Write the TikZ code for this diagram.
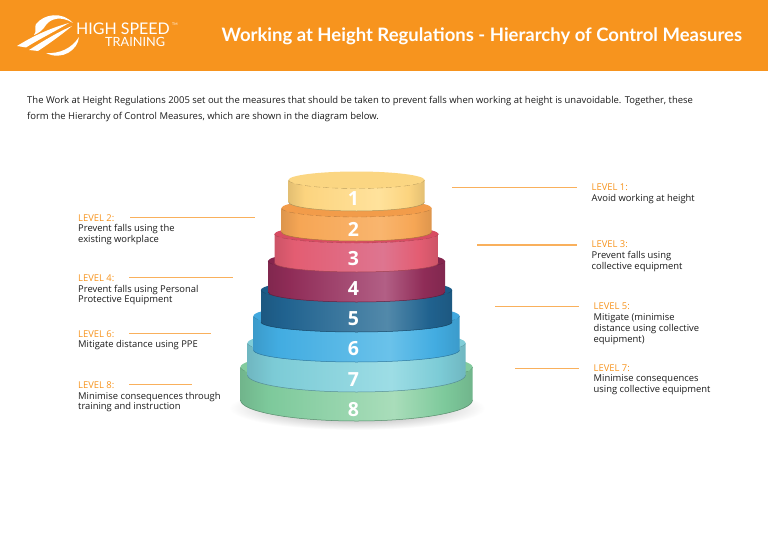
\documentclass[tikz,border=0pt]{standalone}
\usepackage{fontspec}
\setmainfont{Open Sans}
\newfontfamily\logofont{Lato}
\usetikzlibrary{calc}
\definecolor{hsorange}{HTML}{F7941E}
\definecolor{leadcol}{HTML}{F9B05C}
\definecolor{bodytxt}{HTML}{1C1C1C}
\definecolor{e1}{HTML}{FCD47F}\definecolor{m1}{HTML}{FFE29C}\definecolor{t1}{HTML}{FBD682}
\definecolor{e2}{HTML}{F6A655}\definecolor{m2}{HTML}{F9B56E}\definecolor{t2}{HTML}{F29C4A}
\definecolor{e3}{HTML}{E35D72}\definecolor{m3}{HTML}{DE7590}\definecolor{t3}{HTML}{D84C62}
\definecolor{e4}{HTML}{8F2C57}\definecolor{m4}{HTML}{B25F85}\definecolor{t4}{HTML}{84254D}
\definecolor{e5}{HTML}{20628F}\definecolor{m5}{HTML}{5289AA}\definecolor{t5}{HTML}{1B5C89}
\definecolor{e6}{HTML}{42ACE1}\definecolor{m6}{HTML}{6AC2EA}\definecolor{t6}{HTML}{41A8DE}
\definecolor{e7}{HTML}{7CCBD6}\definecolor{m7}{HTML}{9DDDE5}\definecolor{t7}{HTML}{80CDD8}
\definecolor{e8}{HTML}{7DC99B}\definecolor{m8}{HTML}{A9DDBA}\definecolor{t8}{HTML}{82CB9E}
\tikzset{
  lvl/.style={anchor=base west,inner sep=0pt,text=hsorange,font=\fontsize{9.4}{10.8}\selectfont},
  desc/.style={anchor=north west,inner sep=0pt,align=left,text=bodytxt,font=\fontsize{9.4}{10.8}\selectfont},
  intro/.style={anchor=base west,inner sep=0pt,text=bodytxt,font=\fontsize{9.47}{11}\selectfont},
  leader/.style={draw=leadcol,line width=1.3pt},
  numtxt/.style={inner sep=0pt,text=white,font=\fontsize{19.5}{19.5}\selectfont\bfseries},
  swoosh/.style={fill=white,draw=none}
}
\def\cx{356.5}
% \discdraw{n}{rx}{ytop}{ybot}{rytop}{rybot}
\newcommand{\discdraw}[6]{%
  \pgfdeclarehorizontalshading{dshade#1}{100bp}{color(0bp)=(e#1!90!black);color(25bp)=(e#1!90!black);color(31bp)=(e#1);color(58bp)=(m#1);color(69bp)=(e#1);color(75bp)=(e#1!90!black);color(100bp)=(e#1!90!black)}%
  \pgfmathsetmacro{\xl}{\cx-#2}\pgfmathsetmacro{\xr}{\cx+#2}%
  \pgfmathsetmacro{\kx}{0.5523*#2}\pgfmathsetmacro{\kyb}{0.5523*#6}%
  \pgfmathsetmacro{\kyt}{0.5523*#5}%
  \pgfmathsetmacro{\ybe}{#4+#6}\pgfmathsetmacro{\ybk}{#4+\kyb}%
  \pgfmathsetmacro{\yte}{#3+#5}\pgfmathsetmacro{\ytk}{#3+\kyt}%
  \path[shading=dshade#1]
    (\xl,#3) -- (\xl,#4)
    .. controls (\xl,\ybk) and ({\cx-\kx},\ybe) .. (\cx,\ybe)
    .. controls ({\cx+\kx},\ybe) and (\xr,\ybk) .. (\xr,#4)
    -- (\xr,#3) -- cycle;
  \draw[e#1!70!black,line width=0.5pt]
    (\xl,#4)
    .. controls (\xl,\ybk) and ({\cx-\kx},\ybe) .. (\cx,\ybe)
    .. controls ({\cx+\kx},\ybe) and (\xr,\ybk) .. (\xr,#4);
  \fill[t#1] (\cx,#3) ellipse [x radius=#2,y radius=#5];
  \draw[e#1!75!black,line width=0.35pt,dash pattern=on 6pt off 3pt]
    (\xl,#3)
    .. controls (\xl,\ytk) and ({\cx-\kx},\yte) .. (\cx,\yte)
    .. controls ({\cx+\kx},\yte) and (\xr,\ytk) .. (\xr,#3);
}
\begin{document}
\begin{tikzpicture}[x=1pt,y=-1pt]
\useasboundingbox (0,0) rectangle (768,543);
\fill[white] (0,0) rectangle (768,543);
\fill[hsorange] (0,0) rectangle (768,71.5);

% logo
\fill[swoosh] (17,46) .. controls (30,38) and (47,29) .. (69,23) .. controls (52,33) and (36,41) .. (26,47.5) -- cycle;
\fill[swoosh] (29,50) .. controls (40,43) and (56,33) .. (72,26) .. controls (60,36) and (47,45) .. (38,51) -- cycle;
\fill[swoosh] (36,24) .. controls (44,14) and (62,11) .. (73,23) .. controls (62,16) and (51,18) .. (46,25) .. controls (43,30) and (39,33) .. (34,35) .. controls (37,31) and (34,28) .. (36,24) -- cycle;
\fill[swoosh] (46,53) .. controls (60,54) and (72,48) .. (79,37) .. controls (78,50) and (62,61) .. (46,53) -- cycle;
\node[inner sep=0pt,anchor=base west,text=white,font=\logofont\fontsize{16}{16}\selectfont] (logoa) at (76,34.5) {HIGH SPEED};
\node[inner sep=0pt,anchor=base west,text=white,font=\logofont\fontsize{3.5}{4}\selectfont] (logotm) at (172,26) {TM};
\node[inner sep=0pt,anchor=base west,text=white,font=\logofont\fontsize{12.7}{13}\selectfont] (logob) at (105,47) {TRAINING};

\node[inner sep=0pt,anchor=base west,text=white,font=\logofont\fontsize{18.5}{19}\selectfont\bfseries] (title) at (221.5,42) {Working at Height Regula\kern0pt tions - Hierarchy of Control Measures};

\node[intro] (introa) at (27,103) {The Work at Height Regulations 2005 set out the measures that should be taken to prevent falls when working at height is unavoidable. Together, these};
\node[intro] (introb) at (27,119) {form the Hierarchy of Control Measures, which are shown in the diagram below.};

% shadow
\shade[inner color=black!45,outer color=white] (357,408) ellipse [x radius=128,y radius=22];

% discs bottom up
\discdraw{8}{116}{367}{400}{15}{21}
\discdraw{7}{109}{343}{375}{13}{17}
\discdraw{6}{103}{316}{350}{12}{12}
\discdraw{5}{95.5}{290}{322}{11}{10}
\discdraw{4}{88.5}{261}{292}{10}{10}
\discdraw{3}{82}{234}{263}{9}{9}
\discdraw{2}{75}{208}{232}{9}{9}
\discdraw{1}{68}{180}{202}{8.5}{9}

\foreach \n/\y in {1/199,2/229,3/259,4/289,5/319,6/349,7/380,8/410}
  \node[numtxt] (num\n) at (353.5,\y) {\n};

% labels
\node[lvl] (lab1) at (591.5,190.5) {LEVEL 1:};
\node[desc] (txt1) at (591.5,194.2) {Avoid working at height};
\node[lvl] (lab2) at (78,221.2) {LEVEL 2:};
\node[desc] (txt2) at (78,224.6) {Prevent falls using the\\existing workplace};
\node[lvl] (lab3) at (591.5,247.8) {LEVEL 3:};
\node[desc] (txt3) at (591.5,251.5) {Prevent falls using\\collective equipment};
\node[lvl] (lab4) at (78,281) {LEVEL 4:};
\node[desc] (txt4) at (78,284.7) {Prevent falls using Personal\\Protective Equipment};
\node[lvl] (lab5) at (593.5,309.8) {LEVEL 5:};
\node[desc] (txt5) at (593.5,313.5) {Mitigate (minimise\\distance using collective\\equipment)};
\node[lvl] (lab6) at (78,337) {LEVEL 6:};
\node[desc] (txt6) at (78,340.5) {Mitigate distance using PPE};
\node[lvl] (lab7) at (593.5,371.5) {LEVEL 7:};
\node[desc] (txt7) at (593.5,374.5) {Minimise consequences\\using collective equipment};
\node[lvl] (lab8) at (78,388) {LEVEL 8:};
\node[desc] (txt8) at (78,391.7) {Minimise consequences through\\training and instruction};

% leaders
\coordinate (a1) at (452,187.5); \coordinate (b1) at (577,187.5);
\coordinate (a2) at (130,217.5); \coordinate (b2) at (255,217.5);
\coordinate (a3) at (477,245); \coordinate (b3) at (577,245);
\coordinate (a4) at (129,277.5); \coordinate (b4) at (233,277.5);
\coordinate (a5) at (495,306.5); \coordinate (b5) at (579,306.5);
\coordinate (a6) at (129,333.5); \coordinate (b6) at (211,333.5);
\coordinate (a7) at (515,368.5); \coordinate (b7) at (579,368.5);
\coordinate (a8) at (129,384.5); \coordinate (b8) at (192,384.5);
\foreach \n in {1,...,8} \draw[leader] (a\n) -- (b\n);
\end{tikzpicture}
\end{document}
